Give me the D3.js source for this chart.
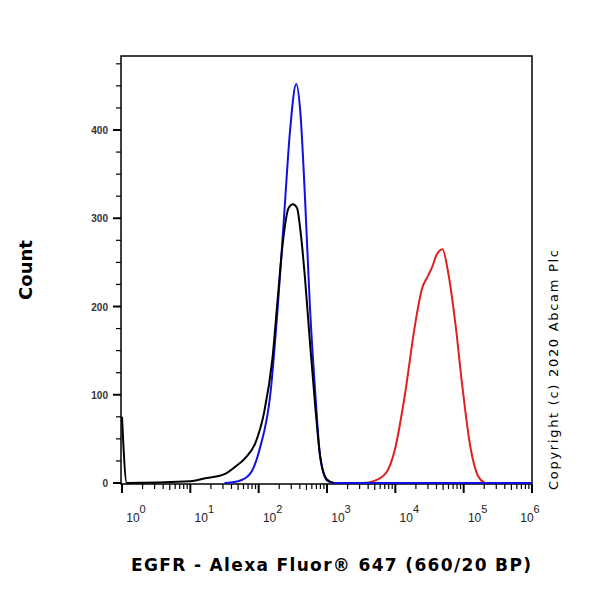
<!DOCTYPE html><html><head><script src="https://cdn.jsdelivr.net/npm/d3@7"></script>
<style>body{margin:0;background:#fff}</style></head><body><svg id="c" width="600" height="600"></svg>
<script>
const blueLog=[1.5,1.7,1.87,2.02,2.17,2.28,2.37,2.46,2.55,2.61,2.68,2.75,2.83,2.9,3.0,3.1,6];
const blueCnt=[0,2,10,40,100,200,300,400,452,420,320,200,100,30,3,0,0];
const blackLog=[0,0.07,1,1.2,1.5,1.65,1.8,1.95,2.08,2.2,2.28,2.35,2.44,2.5,2.56,2.62,2.68,2.75,2.83,2.9,3.0,3.1];
const blackCnt=[75,0,2,5,10,18,28,45,80,140,210,270,312,316,312,280,230,160,85,30,4,0];
const redLog=[3.5,3.63,3.85,4.0,4.14,4.29,4.39,4.48,4.54,4.6,4.69,4.77,4.88,4.98,5.1,5.21,5.31];
const redCnt=[0,1,10,40,100,180,220,235,245,258,265,240,180,110,40,8,0];
const xTicks=[0,1,2,3,4,5,6];
const yTicks=[0,100,200,300,400];
(function(){
const svg=d3.select("#c");
const x=d3.scaleLinear().domain([0,6]).range([122,532]);
const y=d3.scaleLinear().domain([0,400]).range([483,130]);
const pTop=56,bot=484;
svg.append("rect").attr("x",121).attr("y",pTop).attr("width",411).attr("height",bot-pTop).attr("fill","none").attr("stroke","#000").attr("stroke-width",1.5);
const line=d3.line().x(d=>x(d[0])).y(d=>y(d[1])).curve(d3.curveMonotoneX);
function draw(l,c,col){svg.append("path").datum(l.map((v,i)=>[v,c[i]])).attr("d",line).attr("fill","none").attr("stroke",col).attr("stroke-width",2);}
draw(redLog,redCnt,"#e02020");draw(blueLog,blueCnt,"#1010e0");draw(blackLog,blackCnt,"#000");
const yMinor=d3.range(0,485,25);
yMinor.forEach(v=>{svg.append("line").attr("x1",121).attr("x2",v%100===0?113:116).attr("y1",y(v)).attr("y2",y(v)).attr("stroke","#000").attr("stroke-width",v%100===0?2:1.2);});
yTicks.forEach(v=>svg.append("text").attr("x",108).attr("y",y(v)+4).attr("text-anchor","end").attr("font-family","Arial, Liberation Sans").attr("font-size",10).attr("font-weight","bold").attr("fill","#333").text(v));
xTicks.forEach(d=>{
 svg.append("line").attr("x1",x(d)).attr("x2",x(d)).attr("y1",bot).attr("y2",bot+9).attr("stroke","#000").attr("stroke-width",2);
 if(d<6)for(let k=2;k<10;k++){const p=x(d+Math.log10(k));svg.append("line").attr("x1",p).attr("x2",p).attr("y1",bot).attr("y2",bot+(k===5?6:5)).attr("stroke","#000").attr("stroke-width",1.2);}
 const t=svg.append("text").attr("x",x(d)+(d===6?-2:14)).attr("y",bot+38).attr("text-anchor","middle").attr("font-family","Arial, Liberation Sans").attr("font-size",12).attr("fill","#222");
 t.append("tspan").text("10");t.append("tspan").attr("dy",-9).attr("font-size",11).text(d);
});
svg.append("text").attr("transform","translate(32,270) rotate(-90)").attr("text-anchor","middle").attr("font-family","DejaVu Sans").attr("font-size",18).attr("font-weight","bold").text("Count");
svg.append("text").attr("x",331).attr("y",571).attr("text-anchor","middle").attr("font-family","DejaVu Sans").attr("font-size",17).attr("font-weight","bold").attr("textLength",400).text("EGFR - Alexa Fluor® 647 (660/20 BP)");
svg.append("text").attr("transform","translate(558,370) rotate(-90)").attr("text-anchor","middle").attr("font-family","DejaVu Sans").attr("font-size",13).attr("textLength",240).text("Copyright (c) 2020 Abcam Plc");
})();
</script></body></html>
